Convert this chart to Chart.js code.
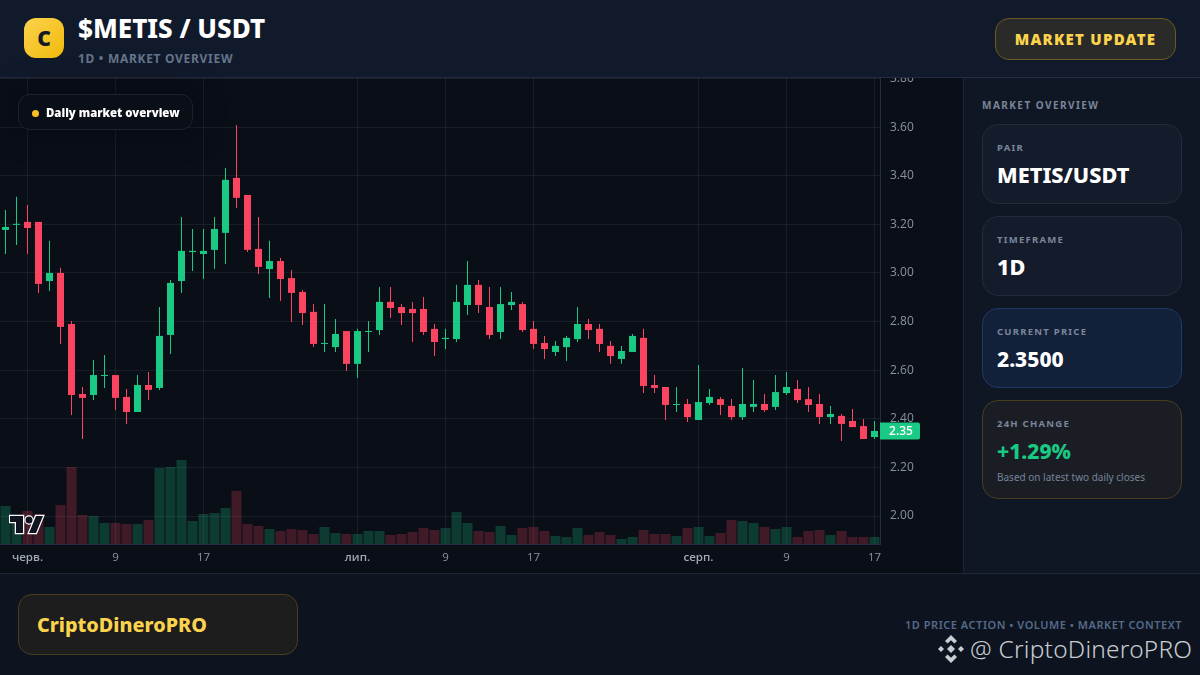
<!DOCTYPE html>
<html>
<head>
<meta charset="utf-8">
<title>$METIS / USDT</title>
<script src="https://cdn.jsdelivr.net/npm/chart.js@4"></script>
<style>
  html, body { margin: 0; padding: 0; background: #0d1420; }
  body { width: 1200px; height: 675px; position: relative; overflow: hidden; font-family: "Noto Sans", "Open Sans", sans-serif; color: #fff; }
  .abs { position: absolute; white-space: nowrap; }
  #header { left: 0; top: 0; width: 1200px; height: 77px; background: #111a2b; border-bottom: 1px solid #232c41; }
  #icon { left: 24px; top: 18px; width: 40px; height: 40px; border-radius: 12px; background: linear-gradient(135deg, #fcd34d, #f0b90b); color: #111827; font-size: 21px; font-weight: 900; text-align: center; line-height: 40px; }
  #title { left: 78px; top: 9px; font-size: 26px; font-weight: 800; line-height: 38px; }
  #subtitle { left: 78px; top: 50px; font-size: 12px; font-weight: 700; letter-spacing: 0.7px; color: #64748b; line-height: 18px; }
  #updateBtn { left: 995px; top: 18px; width: 179px; height: 40px; border: 1px solid #6b5a22; border-radius: 14px; background: #2a2a28; color: #fcd34d; font-size: 15px; font-weight: 900; letter-spacing: 1.25px; text-align: center; line-height: 40px; }
  #chartWrap { left: 0; top: 78px; width: 963px; height: 495px; background: #0a0e17; }
  #badge { left: 18px; top: 94px; width: 173px; height: 34px; border: 1px solid #1b2230; border-radius: 12px; background: #0a0e17; box-shadow: 0 0 30px rgba(5, 7, 12, 0.55); font-size: 11.4px; font-weight: 900; line-height: 35px; text-indent: 27px; }
  #badgeDot { left: 32px; top: 110px; width: 7px; height: 7px; border-radius: 50%; background: #fbbf24; }
  #tvLogo { left: 9px; top: 512px; }
  #side { left: 963px; top: 78px; width: 236px; height: 495px; background: #0f1725; border-left: 1px solid #1c2537; }
  #sideTitle { left: 982px; top: 98px; font-size: 10px; font-weight: 700; letter-spacing: 1.45px; color: #7a8699; line-height: 14px; }
  .card { left: 982px; width: 198px; border: 1px solid #212c40; border-radius: 16px; background: #141c2b; }
  .lbl { left: 997px; font-size: 9.5px; font-weight: 700; letter-spacing: 1.25px; color: #7a8699; line-height: 14px; }
  .val { left: 997px; font-weight: 800; color: #fff; line-height: 30px; }
  #note { left: 997px; top: 470px; font-size: 10px; color: #76829a; line-height: 14px; }
  #footer { left: 0; top: 573px; width: 1200px; height: 102px; background: #0d1420; border-top: 1px solid #1f2839; box-sizing: border-box; }
  #brand { left: 18px; top: 594px; width: 278px; height: 59px; border: 1px solid #4a3d1c; border-radius: 14px; background: #1d1d1d; color: #fcd34d; font-size: 19.8px; font-weight: 800; line-height: 60px; text-indent: 18px; }
  #footNote { right: 18px; top: 617px; font-size: 11px; font-weight: 600; letter-spacing: 0.52px; color: #566a88; line-height: 16px; }
  #mark { left: 970px; top: 631px; font-size: 24.4px; font-weight: 300; color: #c9ccd1; line-height: 36px; letter-spacing: 0.25px; }
  #markIcon { left: 937px; top: 635px; }
</style>
</head>
<body>
<div class="abs" id="header"></div>
<div class="abs" id="icon">C</div>
<div class="abs" id="title">$METIS / USDT</div>
<div class="abs" id="subtitle">1D • MARKET OVERVIEW</div>
<div class="abs" id="updateBtn">MARKET UPDATE</div>

<div class="abs" id="chartWrap"><canvas id="priceChart" width="963" height="495"></canvas></div>
<div class="abs" id="badge">Daily market overview</div>
<div class="abs" id="badgeDot"></div>
<svg class="abs" id="tvLogo" width="36" height="24" viewBox="0 0 36 24">
  <g fill="#0f1420" stroke="#fff" stroke-width="2.5" paint-order="stroke">
    <path d="M14 21H7V10H1V4h13v17z"/>
    <path d="M27 21h-7l7-17h7L27 21z"/>
    <circle cx="20" cy="8" r="3.5"/>
  </g>
</svg>

<div class="abs" id="side"></div>
<div class="abs" id="sideTitle">MARKET OVERVIEW</div>

<div class="abs card" style="top:124px;height:78px"></div>
<div class="abs lbl" style="top:141px">PAIR</div>
<div class="abs val" style="top:160px;font-size:21.7px">METIS/USDT</div>

<div class="abs card" style="top:216px;height:78px"></div>
<div class="abs lbl" style="top:233px">TIMEFRAME</div>
<div class="abs val" style="top:252px;font-size:21.7px">1D</div>

<div class="abs card" style="top:308px;height:78px;background:#12203a;border-color:#1f3a63"></div>
<div class="abs lbl" style="top:325px">CURRENT PRICE</div>
<div class="abs val" style="top:344px;font-size:21px">2.3500</div>

<div class="abs card" style="top:400px;height:97px;background:#1a1e24;border-color:#4a3d1c"></div>
<div class="abs lbl" style="top:417px">24H CHANGE</div>
<div class="abs val" style="top:436px;font-size:21px;color:#19c984">+1.29%</div>
<div class="abs" id="note">Based on latest two daily closes</div>

<div class="abs" id="footer"></div>
<div class="abs" id="brand">CriptoDineroPRO</div>
<div class="abs" id="footNote">1D PRICE ACTION • VOLUME • MARKET CONTEXT</div>
<svg class="abs" id="markIcon" width="28" height="28" viewBox="0 0 28 28">
  <g fill="#c9ccd1">
    <path d="M14 0l6 6-2.6 2.6L14 5.2l-3.4 3.4L8 6z"/>
    <path d="M14 28l6-6-2.6-2.6-3.4 3.4-3.4-3.4L8 22z"/>
    <path d="M4 11l3 3-3 3-3-3z"/>
    <path d="M24 11l3 3-3 3-3-3z"/>
    <path d="M14 10l4 4-4 4-4-4z"/>
  </g>
</svg>
<div class="abs" id="mark">@ CriptoDineroPRO</div>

<script>
const days = [
  "30.05","31.05",
  "01.06","02.06","03.06","04.06","05.06","06.06","07.06","08.06","09.06","10.06",
  "11.06","12.06","13.06","14.06","15.06","16.06","17.06","18.06","19.06","20.06",
  "21.06","22.06","23.06","24.06","25.06","26.06","27.06","28.06","29.06","30.06",
  "01.07","02.07","03.07","04.07","05.07","06.07","07.07","08.07","09.07","10.07",
  "11.07","12.07","13.07","14.07","15.07","16.07","17.07","18.07","19.07","20.07",
  "21.07","22.07","23.07","24.07","25.07","26.07","27.07","28.07","29.07","30.07","31.07",
  "01.08","02.08","03.08","04.08","05.08","06.08","07.08","08.08","09.08","10.08",
  "11.08","12.08","13.08","14.08","15.08","16.08","17.08"
];

const opens = [
  3.177,3.198,3.210,3.210,2.967,3.000,2.790,2.502,2.498,2.576,
  2.580,2.490,2.428,2.539,2.527,2.745,2.967,3.086,3.078,3.095,
  3.165,3.391,3.321,3.099,3.016,3.049,2.979,2.922,2.840,2.708,
  2.695,2.761,2.626,2.757,2.765,2.881,2.860,2.852,2.852,2.770,
  2.728,2.728,2.868,2.951,2.860,2.757,2.868,2.872,2.770,2.712,
  2.675,2.695,2.728,2.790,2.770,2.700,2.646,2.675,2.733,2.539,
  2.531,2.457,2.461,2.395,2.465,2.481,2.453,2.407,2.449,2.461,
  2.449,2.506,2.523,2.481,2.461,2.407,2.412,2.391,2.370,2.325
];
const highs = [
  3.259,3.313,3.280,3.210,3.132,3.021,2.802,2.531,2.642,2.663,
  2.580,2.523,2.580,2.593,2.860,2.971,3.230,3.181,3.181,3.230,
  3.432,3.609,3.321,3.230,3.132,3.062,3.012,2.930,2.872,2.872,
  2.811,2.761,2.770,2.802,2.942,2.942,2.872,2.881,2.901,2.790,
  2.770,2.951,3.049,2.971,2.942,2.942,2.922,2.881,2.802,2.741,
  2.720,2.741,2.860,2.811,2.790,2.720,2.700,2.749,2.770,2.580,
  2.531,2.531,2.481,2.621,2.523,2.490,2.481,2.609,2.560,2.502,
  2.580,2.593,2.560,2.531,2.502,2.453,2.420,2.440,2.399,2.391
];
const lows = [
  3.078,3.115,3.078,2.918,2.926,2.708,2.416,2.317,2.477,2.527,
  2.436,2.379,2.428,2.477,2.519,2.667,2.918,3.008,2.975,3.016,
  3.037,3.267,3.086,2.996,2.897,2.885,2.798,2.786,2.695,2.675,
  2.675,2.597,2.568,2.675,2.745,2.815,2.786,2.716,2.745,2.658,
  2.687,2.716,2.827,2.835,2.728,2.728,2.848,2.757,2.687,2.646,
  2.658,2.638,2.716,2.728,2.675,2.626,2.626,2.675,2.506,2.506,
  2.395,2.428,2.387,2.395,2.457,2.416,2.395,2.395,2.428,2.428,
  2.436,2.498,2.465,2.428,2.379,2.379,2.309,2.366,2.317,2.317
];
const closes = [
  3.189,3.202,3.185,2.955,3.000,2.778,2.498,2.486,2.580,2.580,
  2.486,2.428,2.539,2.519,2.741,2.959,3.091,3.091,3.091,3.181,
  3.383,3.309,3.095,3.025,3.049,2.975,2.918,2.835,2.708,2.712,
  2.749,2.626,2.761,2.761,2.881,2.856,2.835,2.835,2.757,2.716,
  2.733,2.881,2.951,2.868,2.745,2.872,2.881,2.765,2.708,2.687,
  2.700,2.733,2.790,2.765,2.708,2.658,2.679,2.741,2.535,2.527,
  2.457,2.461,2.407,2.469,2.490,2.457,2.407,2.461,2.461,2.436,
  2.510,2.531,2.477,2.457,2.407,2.420,2.379,2.366,2.317,2.350
];
const volumes = [
  38000,24000,33000,30000,17000,39000,77000,29000,28000,21000,
  21000,20000,20000,24000,76000,77000,84000,23000,30000,31000,
  36000,53000,20000,18000,15000,13000,15000,14000,10000,17000,
  11000,10000,10000,13000,13000,9000,10000,12000,16000,14000,
  16000,32000,21000,13000,12000,18000,9000,16000,17000,13000,
  8000,7000,16000,9000,12000,9000,5000,7000,14000,10000,
  10000,8000,16000,17000,8000,11000,24000,23000,21000,17000,
  15000,17000,7000,13000,14000,9000,13000,7000,7000,7000
];

const tickDates = ["01.06","09.06","17.06","01.07","09.07","17.07","01.08","09.08","17.08"];
const tickLabels = ["черв.","9","17","лип.","9","17","серп.","9","17"];

const UP = "#19c984";
const DOWN = "#fb4460";
const UP_VOL = "rgba(25,201,132,0.24)";
const DOWN_VOL = "rgba(251,68,96,0.23)";
const GRID = "rgba(148,163,184,0.11)";
const AXIS = "#232c41";
const TICK = "#8a93a3";

const candleColors = closes.map((c, i) => c >= opens[i] ? UP : DOWN);
const volumeColors = closes.map((c, i) => c >= opens[i] ? UP_VOL : DOWN_VOL);

// scales reserve room for half a tick label, the plot has to run edge to edge
function noScalePadding(s) {
  s.paddingTop = 0;
  s.paddingBottom = 0;
  s.paddingLeft = 0;
  s.paddingRight = 0;
}

// last price tag sitting on the price axis
const lastPriceTag = {
  id: "lastPriceTag",
  afterDraw(chart) {
    const ctx = chart.ctx;
    const y = Math.round(chart.scales.y.getPixelForValue(closes[closes.length - 1]));
    ctx.save();
    ctx.fillStyle = UP;
    ctx.beginPath();
    ctx.roundRect(chart.chartArea.right, y - 8.5, 40, 17, [0, 2, 2, 0]);
    ctx.fill();
    ctx.fillStyle = "#fff";
    ctx.font = "600 12px 'Open Sans'";
    ctx.textAlign = "center";
    ctx.textBaseline = "middle";
    ctx.fillText(closes[closes.length - 1].toFixed(2), chart.chartArea.right + 21, y + 0.5);
    ctx.restore();
  }
};

new Chart(document.getElementById("priceChart"), {
  type: "bar",
  data: {
    labels: days,
    datasets: [
      {
        label: "Body",
        data: days.map((d, i) => [opens[i], closes[i]]),
        backgroundColor: candleColors,
        barThickness: 7,
        minBarLength: 1,
        order: 0,
        yAxisID: "y"
      },
      {
        label: "Wick",
        data: days.map((d, i) => [lows[i], highs[i]]),
        backgroundColor: candleColors,
        barThickness: 1,
        order: 1,
        yAxisID: "y"
      },
      {
        label: "Volume",
        data: volumes,
        backgroundColor: volumeColors,
        barThickness: 10,
        order: 2,
        yAxisID: "vol"
      }
    ]
  },
  plugins: [lastPriceTag],
  options: {
    responsive: false,
    animation: false,
    devicePixelRatio: 1,
    layout: { autoPadding: false, padding: 0 },
    datasets: { bar: { grouped: false, borderWidth: 0, inflateAmount: 0 } },
    plugins: { legend: { display: false }, tooltip: { enabled: false } },
    scales: {
      x: {
        type: "category",
        offset: true,
        border: { color: AXIS },
        grid: {
          offset: false,
          drawTicks: false,
          color: c => c.tick && tickDates.includes(days[c.index]) ? GRID : "transparent"
        },
        afterFit: s => { s.height = 29; noScalePadding(s); },
        ticks: {
          autoSkip: false,
          maxRotation: 0,
          padding: 7,
          color: c => ["черв.", "лип.", "серп."].includes(c.tick.label) ? "#a0a8b6" : TICK,
          font: c => ({
            family: "'Open Sans'",
            size: 11.5,
            weight: ["черв.", "лип.", "серп."].includes(c.tick.label) ? "600" : "400"
          }),
          callback: function (v, i) {
            const k = tickDates.indexOf(days[i]);
            return k < 0 ? "" : tickLabels[k];
          }
        }
      },
      y: {
        position: "right",
        min: 1.885,
        max: 3.802,
        border: { color: AXIS },
        grid: { color: GRID, drawTicks: false },
        afterFit: s => { s.width = 83; noScalePadding(s); },
        ticks: {
          stepSize: 0.2,
          includeBounds: false,
          autoSkip: false,
          padding: 10,
          color: TICK,
          font: { family: "'Open Sans'", size: 12 },
          callback: v => v.toFixed(2)
        }
      },
      vol: {
        display: false,
        min: 0,
        max: 466000,
        afterFit: noScalePadding
      }
    }
  }
});
</script>
</body>
</html>
